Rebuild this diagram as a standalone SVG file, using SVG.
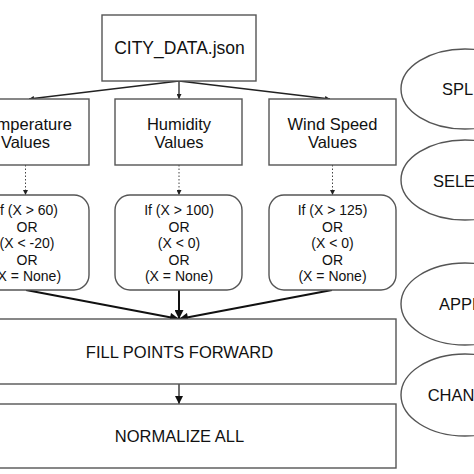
<svg xmlns="http://www.w3.org/2000/svg" width="474" height="474" viewBox="0 0 474 474">
<style>
.box{fill:#fff;stroke:#555;stroke-width:1.4}
.t{font-family:"Liberation Sans",Arial,sans-serif;fill:#111;text-anchor:middle}
.big{font-size:16.5px}
.sm{font-size:14px}
.thin{stroke:#222;stroke-width:1.3;fill:none}
.dot{stroke:#444;stroke-width:1;stroke-dasharray:1.5 2;fill:none}
.thick{stroke:#111;stroke-width:2;fill:none}
</style>
<defs>
<marker id="ah" viewBox="0 0 10 10" refX="10" refY="5" markerWidth="5" markerHeight="5" markerUnits="userSpaceOnUse" orient="auto"><path d="M0,0L10,5L0,10z" fill="#222"/></marker>
<marker id="ahb" viewBox="0 0 10 10" refX="10" refY="5" markerWidth="11" markerHeight="9" markerUnits="userSpaceOnUse" orient="auto"><path d="M0,0L10,5L0,10z" fill="#111"/></marker>
<marker id="ahm" viewBox="0 0 10 10" refX="10" refY="5" markerWidth="9" markerHeight="8" markerUnits="userSpaceOnUse" orient="auto"><path d="M0,0L10,5L0,10z" fill="#111"/></marker>
</defs>
<rect width="474" height="474" fill="#fff"/>
<g id="connectors">
<line class="thin" x1="179" y1="81" x2="29" y2="99" marker-end="url(#ah)"/>
<line class="thin" x1="179" y1="81" x2="179" y2="99" marker-end="url(#ah)"/>
<line class="thin" x1="179" y1="81" x2="330" y2="99" marker-end="url(#ah)"/>
<line class="dot" x1="25.5" y1="165" x2="25.5" y2="195" marker-end="url(#ah)"/>
<line class="dot" x1="179" y1="165" x2="179" y2="195" marker-end="url(#ah)"/>
<line class="dot" x1="332.5" y1="165" x2="332.5" y2="195" marker-end="url(#ah)"/>
<line class="thick" x1="26" y1="290" x2="179" y2="319" marker-end="url(#ahb)"/>
<line class="thick" x1="179" y1="290" x2="179" y2="319" marker-end="url(#ahb)"/>
<line class="thick" x1="332" y1="290" x2="179" y2="319" marker-end="url(#ahb)"/>
<line class="thin" x1="179" y1="384" x2="179" y2="404" marker-end="url(#ahm)"/>
</g>
<g id="city-data">
<rect class="box" x="102" y="15" width="154" height="66"/>
<text class="t" font-size="17.5" x="179.5" y="54">CITY_DATA.json</text>
</g>
<g id="temperature">
<rect class="box" x="-38" y="99" width="127" height="66"/>
<text class="t big" x="25.5" y="130">Temperature</text>
<text class="t big" x="25.5" y="148">Values</text>
</g>
<g id="humidity">
<rect class="box" x="115" y="99" width="127" height="66"/>
<text class="t big" x="179" y="130">Humidity</text>
<text class="t big" x="179" y="148">Values</text>
</g>
<g id="wind">
<rect class="box" x="269" y="99" width="127" height="66"/>
<text class="t big" x="332.5" y="130">Wind Speed</text>
<text class="t big" x="332.5" y="148">Values</text>
</g>
<g id="temp-cond">
<rect class="box" x="-38" y="195" width="127" height="95" rx="15"/>
<text class="t sm" x="27" y="215">If (X &gt; 60)</text>
<text class="t sm" x="27" y="232">OR</text>
<text class="t sm" x="27" y="248">(X &lt; -20)</text>
<text class="t sm" x="27" y="265">OR</text>
<text class="t sm" x="27" y="281">(X = None)</text>
</g>
<g id="hum-cond">
<rect class="box" x="115" y="195" width="127" height="95" rx="15"/>
<text class="t sm" x="179" y="215">If (X &gt; 100)</text>
<text class="t sm" x="179" y="232">OR</text>
<text class="t sm" x="179" y="248">(X &lt; 0)</text>
<text class="t sm" x="179" y="265">OR</text>
<text class="t sm" x="179" y="281">(X = None)</text>
</g>
<g id="wind-cond">
<rect class="box" x="269" y="195" width="127" height="95" rx="15"/>
<text class="t sm" x="332.5" y="215">If (X &gt; 125)</text>
<text class="t sm" x="332.5" y="232">OR</text>
<text class="t sm" x="332.5" y="248">(X &lt; 0)</text>
<text class="t sm" x="332.5" y="265">OR</text>
<text class="t sm" x="332.5" y="281">(X = None)</text>
</g>
<g id="fill-forward">
<rect class="box" x="-38" y="319" width="434" height="65"/>
<text class="t big" x="179.5" y="358">FILL POINTS FORWARD</text>
</g>
<g id="normalize">
<rect class="box" x="-38" y="404" width="434" height="64"/>
<text class="t big" x="179.5" y="442">NORMALIZE ALL</text>
</g>
<g id="split">
<ellipse class="box" cx="465" cy="89" rx="64" ry="40"/>
<text class="t big" x="465" y="95">SPLIT</text>
</g>
<g id="select">
<ellipse class="box" cx="465" cy="180" rx="64" ry="40"/>
<text class="t big" x="465" y="187">SELECT</text>
</g>
<g id="apply">
<ellipse class="box" cx="465" cy="304" rx="64" ry="41"/>
<text class="t big" x="465" y="310">APPLY</text>
</g>
<g id="change">
<ellipse class="box" cx="465" cy="395" rx="64" ry="41"/>
<text class="t big" x="463" y="401">CHANGE</text>
</g>
</svg>
